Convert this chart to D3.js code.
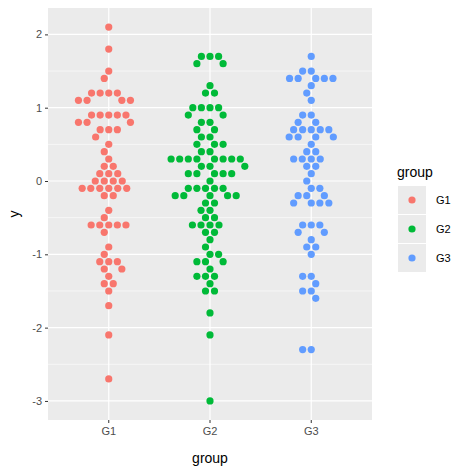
<!DOCTYPE html><html><head><meta charset="utf-8"><script src="https://d3js.org/d3.v7.min.js"></script>
<style>body{margin:0;background:#fff}text{font-family:"Liberation Sans",Arial,sans-serif}</style></head><body><svg id="c" width="474" height="474"></svg>
<script>
const groups=["G1","G2","G3"];
const colors=["#F8766D","#00BA38","#619CFF"];
const yTicks=[-3,-2,-1,0,1,2];
// [value, count]
const g1=[[2.1,1],[1.8,1],[1.5,1],[1.4,1],[1.2,4],[1.1,4],[0.9,5],[0.8,3],[0.7,3],[0.6,1],[0.5,1],[0.4,1],[0.3,1],[0.2,2],[0.1,3],[0,4],[-0.1,6],[-0.2,2],[-0.4,1],[-0.5,1],[-0.6,5],[-0.7,1],[-0.9,1],[-1.0,1],[-1.1,3],[-1.2,2],[-1.3,1],[-1.4,2],[-1.5,1],[-1.7,1],[-2.1,1],[-2.7,1]];
const g2=[[1.7,3],[1.6,2],[1.3,1],[1.2,2],[1.0,4],[0.9,2],[0.8,2],[0.7,2],[0.6,2],[0.5,3],[0.4,2],[0.3,8],[0.2,3],[0.1,5],[0,1],[-0.1,5],[-0.2,5],[-0.3,2],[-0.4,2],[-0.5,2],[-0.6,4],[-0.7,2],[-0.8,1],[-0.9,1],[-1.0,2],[-1.1,3],[-1.2,1],[-1.3,3],[-1.4,1],[-1.5,2],[-1.8,1],[-2.1,1],[-3.0,1]];
const g3=[[1.7,1],[1.5,2],[1.4,5],[1.3,1],[1.2,1],[1.1,1],[0.9,2],[0.8,2],[0.7,5],[0.6,4],[0.5,1],[0.4,2],[0.3,4],[0.2,2],[0.1,1],[0,1],[-0.1,2],[-0.2,3],[-0.3,4],[-0.6,3],[-0.7,2],[-0.8,1],[-0.9,2],[-1.0,1],[-1.3,2],[-1.4,1],[-1.5,2],[-1.6,1],[-2.3,2]];
const series=[g1,g2,g3];

const svg=d3.select("#c");
const L=48,R=372,T=8,B=420;
const x=d3.scaleBand().domain(groups).range([L,R]).paddingOuter(0.1).paddingInner(0.0);
const xc=g=>x(g)+x.bandwidth()/2;
const y=d3.scaleLinear().domain([-3.26,2.36]).range([B,T]);
svg.append("rect").attr("x",L).attr("y",T).attr("width",R-L).attr("height",B-T).attr("fill","#EBEBEB");
for(let v=-2.5;v<=2;v+=1) svg.append("line").attr("x1",L).attr("x2",R).attr("y1",y(v)).attr("y2",y(v)).attr("stroke","#fff").attr("stroke-width",0.6);
yTicks.forEach(v=>svg.append("line").attr("x1",L).attr("x2",R).attr("y1",y(v)).attr("y2",y(v)).attr("stroke","#fff").attr("stroke-width",1.2));
groups.forEach(g=>svg.append("line").attr("x1",xc(g)).attr("x2",xc(g)).attr("y1",T).attr("y2",B).attr("stroke","#fff").attr("stroke-width",1.2));
const r=3.6,D=8.6;
series.forEach((s,i)=>{
  const pts=[];s.forEach(([v,n])=>{for(let k=0;k<n;k++)pts.push(v)});
  pts.sort((a,b)=>b-a);
  const placed=[];
  pts.forEach(v=>{
    const py=y(v);
    const near=placed.filter(p=>Math.abs(p.y-py)<D);
    const cands=[0];
    near.forEach(p=>{const dx=Math.sqrt(D*D-(p.y-py)**2);cands.push(p.x+dx,p.x-dx)});
    cands.sort((a,b)=>Math.abs(a)-Math.abs(b)||a-b);
    const ok=c=>near.every(p=>(p.x-c)**2+(p.y-py)**2>=D*D-0.01);
    const cx=cands.find(ok);
    placed.push({x:cx,y:py});
  });
  svg.append("g").selectAll("circle").data(placed).join("circle")
   .attr("cx",d=>xc(groups[i])+d.x).attr("cy",d=>d.y).attr("r",r).attr("fill",colors[i]);
});
const ya=svg.append("g").attr("transform",`translate(${L},0)`).call(d3.axisLeft(y).tickValues(yTicks).tickFormat(v=>String(v)).tickSize(3).tickPadding(3));
const xa=svg.append("g").attr("transform",`translate(0,${B})`).call(d3.axisBottom(x).tickSize(3).tickPadding(4));
[ya,xa].forEach(a=>{a.select(".domain").remove();a.selectAll("line").attr("stroke","#333");a.selectAll("text").attr("fill","#4D4D4D").style("font-size","11px")});
svg.append("text").attr("x",(L+R)/2).attr("y",463).attr("text-anchor","middle").style("font-size","14px").text("group");
svg.append("text").attr("transform",`translate(19,${(T+B)/2}) rotate(-90)`).attr("text-anchor","middle").style("font-size","14px").text("y");
svg.append("text").attr("x",397).attr("y",177).style("font-size","14px").text("group");
groups.forEach((g,i)=>{const cy=200+i*29;
 svg.append("rect").attr("x",398).attr("y",cy-14).attr("width",28).attr("height",28).attr("fill","#EBEBEB");
 svg.append("circle").attr("cx",412).attr("cy",cy).attr("r",r).attr("fill",colors[i]);
 svg.append("text").attr("x",436).attr("y",cy+4).style("font-size","11px").text(g);});
</script></body></html>
